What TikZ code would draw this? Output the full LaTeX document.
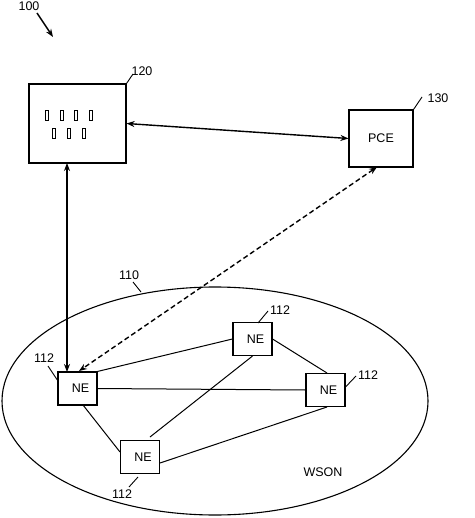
\documentclass[tikz,border=0pt]{standalone}
\usepackage{fontspec}
\setmainfont{Liberation Sans}
\usetikzlibrary{arrows.meta}
\begin{document}
\begin{tikzpicture}[x=1pt,y=-1pt,
  box/.style={draw,line width=1.1pt,inner sep=0pt},
  ne/.style={box,minimum width=39pt,minimum height=33pt,font=\fontsize{12.5}{14}\selectfont},
  lbl/.style={font=\fontsize{12.5}{14}\selectfont,inner sep=0pt},
  lead/.style={line width=0.9pt},
  link/.style={line width=1pt},
  slot/.style={draw,line width=0.9pt,minimum width=3pt,minimum height=10pt,inner sep=0pt},
  arr/.style={line width=1.4pt,{Stealth[length=8pt,width=6pt]}-{Stealth[length=8pt,width=6pt]}}
]
\useasboundingbox (0,0) rectangle (474,518);
% label 100
\node[lbl] (l100) at (29,6) {100};
\coordinate (a100) at (53,37);
\draw[line width=1.4pt,-{Stealth[length=8pt,width=6pt]}] (37,13) -- (a100);
% box 120
\node[box,minimum width=97pt,minimum height=79pt] (b120) at (77.5,123.5) {};
\foreach \x/\n in {47/s1,62/s2,76/s3,91/s4}{\node[slot] (\n) at (\x,115.5) {};}
\foreach \x/\n in {54/s5,69/s6,84/s7}{\node[slot] (\n) at (\x,133) {};}
\node[lbl] (l120) at (142,71) {120};
\draw[lead] (b120.north east) -- (133,74);
% PCE
\node[box,minimum width=64pt,minimum height=57pt,font=\fontsize{12.5}{14}\selectfont] (pce) at (381,138.5) {PCE};
\node[lbl] (l130) at (438,98) {130};
\draw[lead] (pce.north east) -- (422,97);
% ellipse WSON
\draw[line width=1.1pt] (215,401) ellipse [x radius=213, y radius=114];
\node (ell) at (215,401) {};
\node[lbl] (l110) at (129,275) {110};
\draw[lead] (141,292) -- (133,282);
\node[lbl] (wson) at (323,472) {WSON};
% NEs
\node[ne] (ne1) at (77.5,388.5) {\hspace*{6pt}NE};
\node[ne] (ne2) at (252.5,339) {\hspace*{6pt}NE};
\node[ne] (ne3) at (325.5,390) {\hspace*{6pt}NE};
\node[ne] (ne4) at (140,457) {\hspace*{6pt}NE};
\node[lbl] (l1) at (44,358) {112};
\draw[lead] (48,366) -- (58,381);
\node[lbl] (l2) at (280,310) {112};
\draw[lead] (258,323) -- (268,311);
\node[lbl] (l3) at (368,375) {112};
\draw[lead] (ne3.east) ++(0,-3) -- (356,376);
\node[lbl] (l4) at (122,494) {112};
\draw[lead] (138,477) -- (129,487);
% links
\draw[link] (ne1.north east) -- (ne2.west);
\draw[link] (ne1.east) -- (ne3.west);
\draw[link] (83,405) -- (120,452);
\draw[link] (ne2.south) -- (150,437);
\draw[link] (ne2.east) -- (327,373);
\draw[link] (327,407) -- (160,463);
% arrows
\draw[arr] (b120.east) -- (pce.west);
\draw[arr] (67,163) -- (67,372);
\draw[arr,dashed,dash pattern=on 5pt off 3pt] (377,167) -- (79,371);
\end{tikzpicture}
\end{document}
